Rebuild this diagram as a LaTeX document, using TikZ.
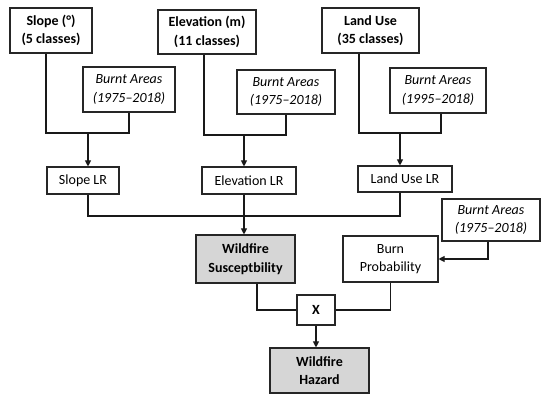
\documentclass[tikz,border=0pt]{standalone}
\usepackage{fontspec}
\setmainfont{Carlito}
\usetikzlibrary{arrows.meta}
\begin{document}
\begin{tikzpicture}[x=1pt,y=-1pt,
  box/.style={draw=black!85, line width=1.1pt, align=center, inner sep=0pt,
    font=\fontsize{14}{18.5}\selectfont},
  bbox/.style={box, font=\fontsize{14}{18.5}\selectfont\bfseries},
  ibox/.style={box, font=\fontsize{14}{18.5}\selectfont\itshape},
  gbox/.style={bbox, fill=black!16},
  ln/.style={draw=black!90, line width=1.1pt},
  arr/.style={ln, -{Triangle[length=6pt,width=6pt]}}]
\useasboundingbox (0,0) rectangle (550,406);
% top row
\node[bbox, minimum width=82pt, minimum height=45pt] (slope) at (51,30.5) {Slope (°)\\(5 classes)};
\node[bbox, minimum width=98pt, minimum height=44pt] (elev) at (207,32) {Elevation (m)\\(11 classes)};
\node[bbox, minimum width=97pt, minimum height=45pt] (land) at (370.5,30.5) {Land Use\\(35 classes)};
% burnt areas
\node[ibox, minimum width=92pt, minimum height=45pt] (ba1) at (129,89.5) {Burnt Areas\\(1975–2018)};
\node[ibox, minimum width=98pt, minimum height=44pt] (ba2) at (286,92) {Burnt Areas\\(1975–2018)};
\node[ibox, minimum width=96pt, minimum height=45pt] (ba3) at (438,90.5) {Burnt Areas\\(1995–2018)};
\node[ibox, minimum width=98pt, minimum height=42pt] (ba4) at (491,220) {Burnt Areas\\(1975–2018)};
% LR
\node[box, minimum width=72pt, minimum height=27pt] (slopelr) at (83,180.5) {Slope LR};
\node[box, minimum width=94pt, minimum height=27pt] (elevlr) at (249,180.5) {Elevation LR};
\node[box, minimum width=94pt, minimum height=26pt] (landlr) at (405,179) {Land Use LR};
% lower
\node[gbox, minimum width=99pt, minimum height=48pt] (ws) at (245.5,259) {Wildfire\\Susceptbility};
\node[box, minimum width=95pt, minimum height=46pt] (bp) at (390.5,259) {Burn\\Probability};
\node[bbox, minimum width=38pt, minimum height=30pt] (x) at (316,310) {X};
\node[gbox, minimum width=99pt, minimum height=45pt] (wh) at (319.5,370.5) {Wildfire\\Hazard};
% junctions
\coordinate (j1) at (88,133);
\coordinate (j2) at (244,135);
\coordinate (j3) at (400,133);
\coordinate (j4) at (244,216);
% connectors
\draw[ln] ([xshift=-5pt]slope.south) |- (ba1.south |- j1) -- (ba1.south);
\draw[arr] (j1) -- (j1 |- slopelr.north);
\draw[ln] ([xshift=-3pt]elev.south) |- (ba2.south |- j2) -- (ba2.south);
\draw[arr] (j2) -- (j2 |- elevlr.north);
\draw[ln] ([xshift=-11.5pt]land.south) |- ([xshift=3pt]ba3.south |- j3) -- ([xshift=3pt]ba3.south);
\draw[arr] (j3) -- (j3 |- landlr.north);
\draw[ln] (j1 |- slopelr.south) |- (j4) -| (j3 |- landlr.south);
\draw[ln] (j2 |- elevlr.south) -- (j4);
\draw[arr] (j4) -- (j4 |- ws.north);
\draw[arr] ([xshift=-3pt]ba4.south) |- (bp.east);
\draw[ln] ([xshift=11.5pt]ws.south) |- (x.west);
\draw[ln] (bp.south) |- (x.east);
\draw[arr] (x.south) -- (x.south |- wh.north);
\end{tikzpicture}
\end{document}
